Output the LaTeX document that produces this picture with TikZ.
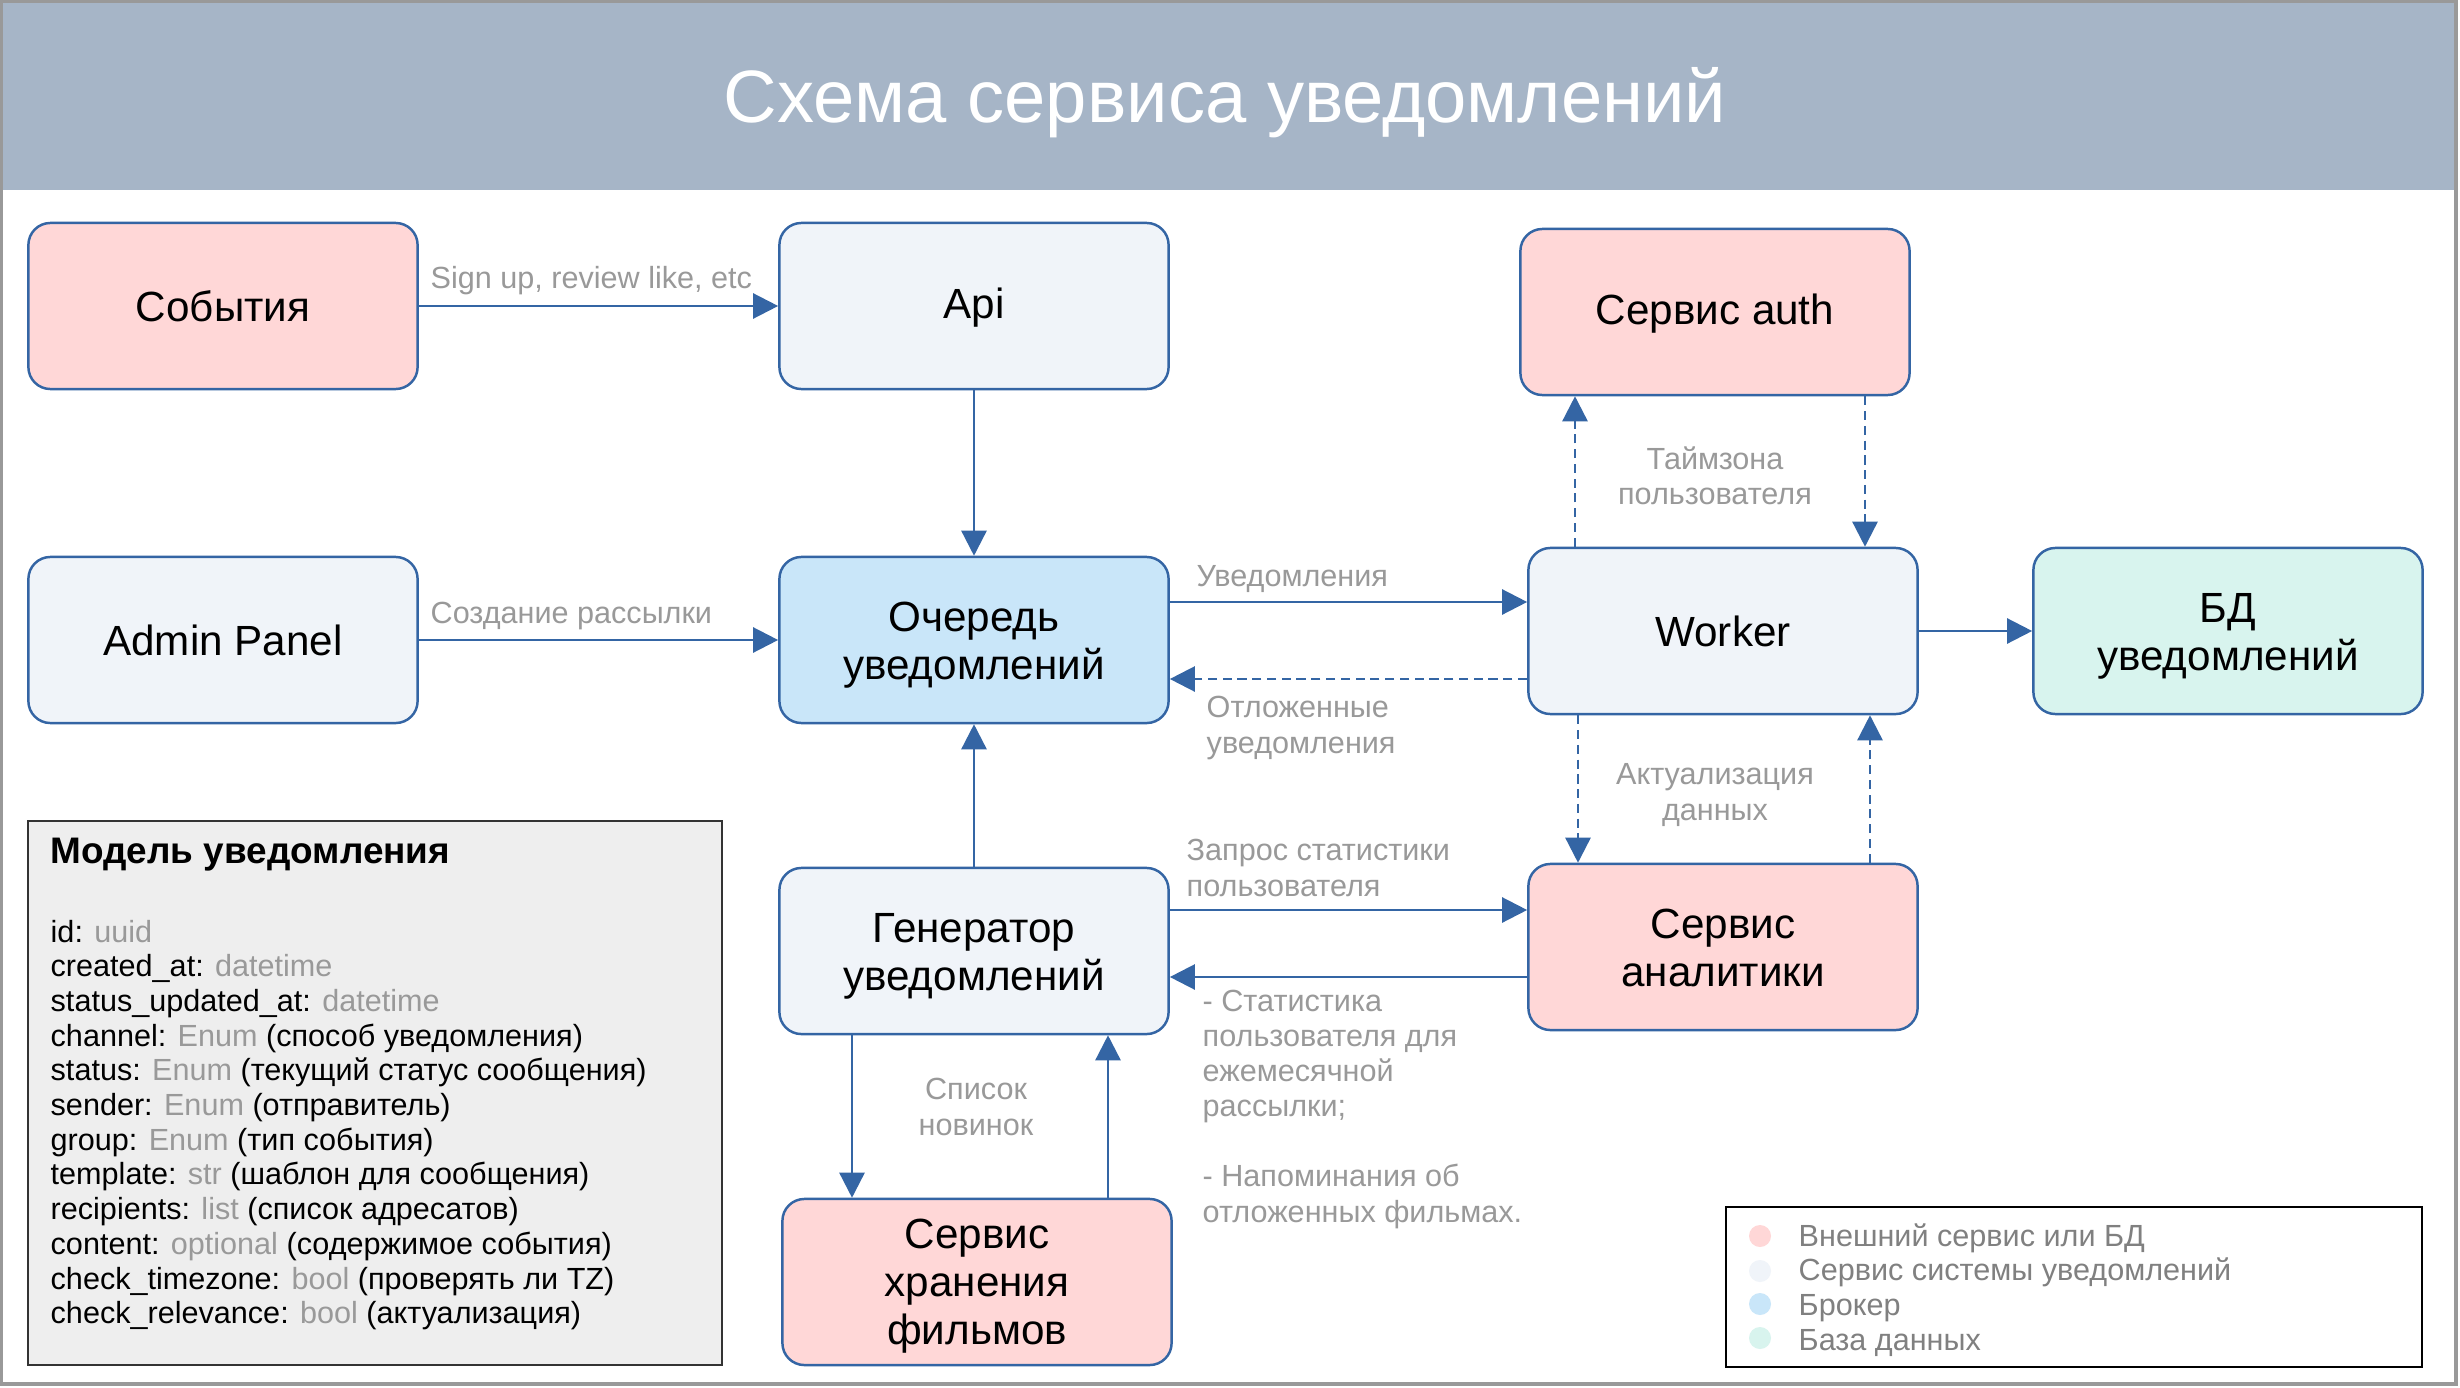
\documentclass[tikz,border=0pt]{standalone}
\usepackage{fontspec}
\setmainfont{Liberation Sans}
\usetikzlibrary{arrows.meta,calc}
\definecolor{bl}{HTML}{3465A4}
\definecolor{hdr}{HTML}{A6B5C7}
\definecolor{ext}{HTML}{FFD7D7}
\definecolor{svc}{HTML}{F0F4F9}
\definecolor{brk}{HTML}{C9E6F9}
\definecolor{dbc}{HTML}{D8F4EE}
\definecolor{lg}{HTML}{999999}
\definecolor{lgd}{HTML}{808080}
\definecolor{mdl}{HTML}{EEEEEE}
\newcommand\mlines[2][0.06cm]{\raisebox{-#1}[\height][\depth]{\begin{tabular}{@{}c@{}}#2\end{tabular}}}
\tikzset{
  box/.style={draw=bl, line width=0.7pt, rounded corners=0.22cm, minimum width=3.89cm, minimum height=1.66cm, align=center, font=\fontsize{12}{13.7}\selectfont, inner sep=0pt},
  arr/.style={draw=bl, line width=0.7pt, -{Triangle[length=2.5mm,width=2.5mm]}},
  dsh/.style={dash pattern=on 2.6pt off 1.6pt},
  lbl/.style={text=lg, font=\fontsize{8.7}{10}\selectfont, inner sep=0pt},
  mtxt/.style={font=\fontsize{8.7}{9.87}\selectfont, inner sep=0pt, align=left},
  dot/.style={circle, minimum size=0.22cm, inner sep=0pt}
}
\begin{document}
\begin{tikzpicture}[x=0.01cm,y=-0.01cm]
\useasboundingbox (0,0) rectangle (2460,1388);
\fill[white] (0,0) rectangle (2460,1388);
\fill[hdr] (0,0) rectangle (2456,190);
\draw[gray!80, line width=1pt] (1,1) rectangle (2456,1384);
\node[text=white, font=\fontsize{21.1}{25}\selectfont, inner sep=0pt] (title) at (1225,103) {Схема сервиса уведомлений};

% nodes
\node[box, fill=ext] (ev) at (223,306) {События};
\node[box, fill=svc] (api) at (974,306) {\mlines[0.03cm]{Api}};
\node[box, fill=ext] (auth) at (1715,312) {\mlines[0.03cm]{Сервис auth}};
\node[box, fill=svc] (adm) at (223,640) {Admin Panel};
\node[box, fill=brk] (q) at (974,640) {\mlines{Очередь\\уведомлений}};
\node[box, fill=svc] (wk) at (1723,631) {Worker};
\node[box, fill=dbc] (db) at (2228,631) {\mlines{БД\\уведомлений}};
\node[box, fill=svc] (gen) at (974,951) {\mlines{Генератор\\уведомлений}};
\node[box, fill=ext] (an) at (1723,947) {\mlines{Сервис\\аналитики}};
\node[box, fill=ext] (st) at (977,1282) {\mlines[0.05cm]{Сервис\\хранения\\фильмов}};

% connectors
\draw[arr] (ev) -- (api.west |- ev);
\draw[arr] (api) -- (q);
\draw[arr] (adm) -- (q);
\draw[arr] (q.east |- 0,602) -- (wk.west |- 0,602);
\draw[arr, dsh] (wk.west |- 0,679) -- (q.east |- 0,679);
\draw[arr, dsh] (wk.north -| 1575,0) -- (auth.south -| 1575,0);
\draw[arr, dsh] (auth.south -| 1865,0) -- (wk.north -| 1865,0);
\draw[arr] (wk) -- (db);
\draw[arr, dsh] (wk.south -| 1578,0) -- (an.north -| 1578,0);
\draw[arr, dsh] (an.north -| 1870,0) -- (wk.south -| 1870,0);
\draw[arr] (gen) -- (q);
\draw[arr] (gen.east |- 0,910) -- (an.west |- 0,910);
\draw[arr] (an.west |- 0,977) -- (gen.east |- 0,977);
\draw[arr] (gen.south -| 852,0) -- (st.north -| 852,0);
\draw[arr] (st.north -| 1108,0) -- (gen.south -| 1108,0);

% labels
\node[lbl, anchor=west] (l1) at (430,281) {Sign up, review like, etc};
\node[lbl, anchor=west] (l2) at (430,616) {Создание рассылки};
\node[lbl, anchor=west] (l3) at (1196,579) {Уведомления};
\node[lbl, anchor=west, align=left] (l4) at (1206,728) {Отложенные\\уведомления};
\node[lbl, align=center] (l5) at (1715,476) {Таймзона\\пользователя};
\node[lbl, align=center] (l6) at (1715,795) {Актуализация\\данных};
\node[lbl, anchor=west, align=left] (l7) at (1186,868) {Запрос статистики\\пользователя};
\node[lbl, anchor=west, align=left] (l8) at (1202,1109) {- Статистика\\пользователя для\\ежемесячной\\рассылки;\\[10pt]- Напоминания об\\отложенных фильмах.};
\node[lbl, align=center] (l9) at (976,1107) {Список\\новинок};

% model box
\draw[fill=mdl, draw=black!80, line width=0.6pt] (28,821) rectangle (722,1365);
\node[anchor=west, inner sep=0pt, font=\fontsize{10.5}{12}\selectfont\bfseries] (mt) at (50,855) {Модель уведомления};
\node[mtxt, anchor=west] (mb) at (50,1125) {%
id: \textcolor{lg}{uuid}\\
created\_at: \textcolor{lg}{datetime}\\
status\_updated\_at: \textcolor{lg}{datetime}\\
channel: \textcolor{lg}{Enum} (способ уведомления)\\
status: \textcolor{lg}{Enum} (текущий статус сообщения)\\
sender: \textcolor{lg}{Enum} (отправитель)\\
group: \textcolor{lg}{Enum} (тип события)\\
template: \textcolor{lg}{str} (шаблон для сообщения)\\
recipients: \textcolor{lg}{list} (список адресатов)\\
content: \textcolor{lg}{optional} (содержимое события)\\
check\_timezone: \textcolor{lg}{bool} (проверять ли TZ)\\
check\_relevance: \textcolor{lg}{bool} (актуализация)};

% legend
\draw[draw=black, line width=0.6pt] (1726,1207) rectangle (2422,1367);
\node[dot, fill=ext] (d1) at (1760,1236) {};
\node[dot, fill=svc] (d2) at (1760,1271) {};
\node[dot, fill=brk] (d3) at (1760,1304) {};
\node[dot, fill=dbc] (d4) at (1760,1338) {};
\node[mtxt, text=lgd, anchor=west] (lt) at (1798,1290) {Внешний сервис или БД\\Сервис системы уведомлений\\Брокер\\База данных};
\end{tikzpicture}
\end{document}
